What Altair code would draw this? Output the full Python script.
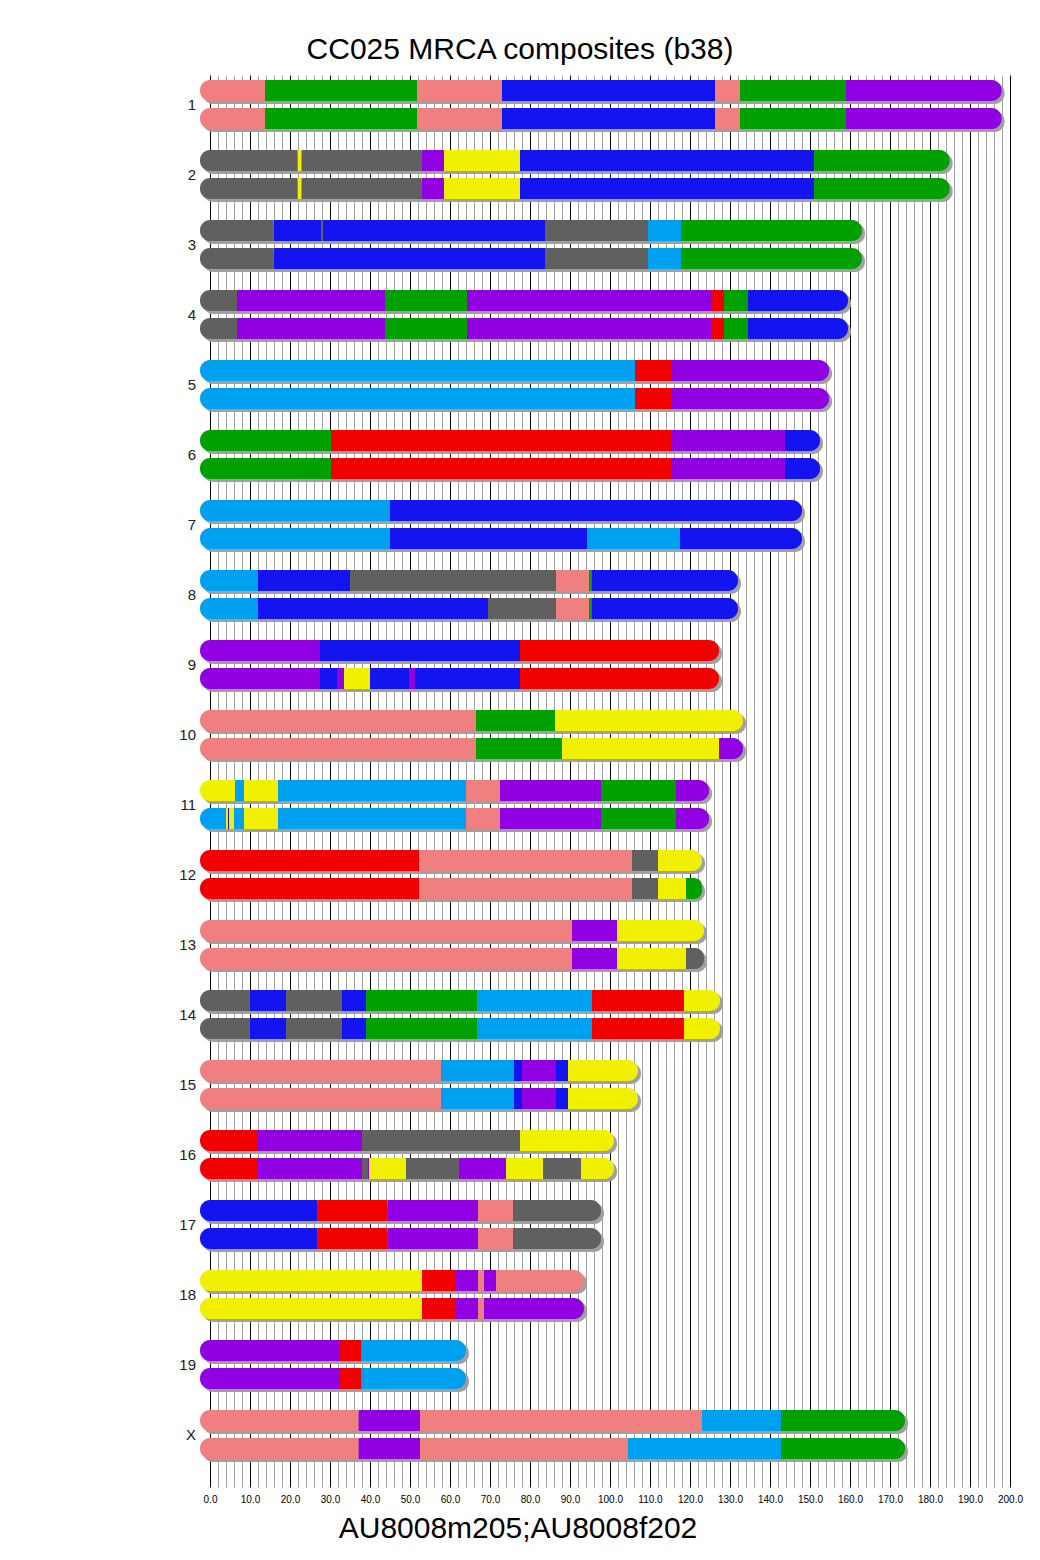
import altair as alt
import pandas as pd

TITLE = "CC025 MRCA composites (b38)"
XLABEL = "AU8008m205;AU8008f202"

CHROM_LABELS = ["1", "2", "3", "4", "5", "6", "7", "8", "9", "10",
                "11", "12", "13", "14", "15", "16", "17", "18", "19", "X"]

COLOR_KEYS = ["P", "G", "B", "V", "K", "Y", "L", "R"]
COLOR_HEX = ["#f08080", "#00a000", "#1414f0", "#9000e0",
             "#606060", "#f0f000", "#00a0f0", "#f00000"]

# each track: list of (segment end in cM, founder colour key); segments start at previous end
chr_1 = ([(13.75, "P"), (51.75, "G"), (73, "P"), (126.25, "B"), (132.5, "P"), (159, "G"), (195.4, "V")],
         [(13.75, "P"), (51.75, "G"), (73, "P"), (126.25, "B"), (132.5, "P"), (159, "G"), (195.4, "V")])
chr_2 = ([(21.9, "K"), (22.9, "Y"), (52.9, "K"), (58.5, "V"), (77.5, "Y"), (151, "B"), (182.4, "G")],
         [(21.9, "K"), (22.9, "Y"), (52.9, "K"), (58.5, "V"), (77.5, "Y"), (151, "B"), (182.4, "G")])
chr_3 = ([(15.9, "K"), (27.75, "B"), (28.25, "K"), (83.75, "B"), (109.5, "K"), (117.75, "L"), (160.5, "G")],
         [(15.9, "K"), (83.75, "B"), (109.5, "K"), (117.75, "L"), (160.5, "G")])
chr_4 = ([(6.75, "K"), (43.75, "V"), (64.25, "G"), (125.25, "V"), (128.5, "R"), (134.5, "G"), (157, "B")],
         [(6.75, "K"), (43.75, "V"), (64.25, "G"), (125.25, "V"), (128.5, "R"), (134.5, "G"), (157, "B")])
chr_5 = ([(106.25, "L"), (115.25, "R"), (152.25, "V")],
         [(106.25, "L"), (115.25, "R"), (152.25, "V")])
chr_6 = ([(30.25, "G"), (115.25, "R"), (143.75, "V"), (150, "B")],
         [(30.25, "G"), (115.25, "R"), (143.75, "V"), (150, "B")])
chr_7 = ([(45, "L"), (145.5, "B")],
         [(45, "L"), (94.25, "B"), (117.5, "L"), (145.5, "B")])
chr_8 = ([(12, "L"), (35, "B"), (86.5, "K"), (94.75, "P"), (95.5, "G"), (129.5, "B")],
         [(12, "L"), (69.5, "B"), (86.5, "K"), (94.75, "P"), (95.5, "G"), (129.5, "B")])
chr_9 = ([(27.5, "V"), (77.5, "B"), (124.75, "R")],
         [(27.5, "V"), (31.75, "B"), (33.5, "V"), (40, "Y"), (49.75, "B"), (51.25, "V"), (77.5, "B"), (124.75, "R")])
chr_10 = ([(66.5, "P"), (86.25, "G"), (130.75, "Y")],
          [(66.5, "P"), (88, "G"), (127.25, "Y"), (130.75, "V")])
chr_11 = ([(6.25, "Y"), (8.5, "L"), (17, "Y"), (64, "L"), (72.5, "P"), (97.75, "V"), (116.5, "G"), (122.25, "V")],
          [(4, "L"), (4.5, "Y"), (4.75, "B"), (6, "Y"), (8.5, "L"), (17, "Y"), (64, "L"), (72.5, "P"),
           (97.75, "V"), (116.5, "G"), (122.25, "V")])
chr_12 = ([(52.25, "R"), (105.5, "P"), (112, "K"), (120.5, "Y")],
          [(52.25, "R"), (105.5, "P"), (112, "K"), (119, "Y"), (120.5, "G")])
chr_13 = ([(90.5, "P"), (101.75, "V"), (121, "Y")],
          [(90.5, "P"), (101.75, "V"), (119, "Y"), (121, "K")])
chr_14 = ([(10, "K"), (19, "B"), (33, "K"), (39, "B"), (66.75, "G"), (95.5, "L"), (118.5, "R"), (125, "Y")],
          [(10, "K"), (19, "B"), (33, "K"), (39, "B"), (66.75, "G"), (95.5, "L"), (118.5, "R"), (125, "Y")])
chr_15 = ([(57.75, "P"), (76, "L"), (78, "B"), (86.5, "V"), (89.5, "B"), (104.5, "Y")],
          [(57.75, "P"), (76, "L"), (78, "B"), (86.5, "V"), (89.5, "B"), (104.5, "Y")])
chr_16 = ([(12, "R"), (38, "V"), (77.5, "K"), (98.5, "Y")],
          [(12, "R"), (38, "V"), (39.5, "K"), (39.75, "V"), (49, "Y"), (62.2, "K"), (74, "V"),
           (83.25, "Y"), (92.75, "K"), (98.5, "Y")])
chr_17 = ([(26.9, "B"), (44.4, "R"), (67, "V"), (75.75, "P"), (95.25, "K")],
          [(26.9, "B"), (44.4, "R"), (67, "V"), (75.75, "P"), (95.25, "K")])
chr_18 = ([(53, "Y"), (61.5, "R"), (67, "V"), (68.5, "P"), (71.5, "V"), (91, "P")],
          [(53, "Y"), (61.5, "R"), (67, "V"), (68.5, "P"), (91, "V")])
chr_19 = ([(32.5, "V"), (37.75, "R"), (61.5, "L")],
          [(32.5, "V"), (37.75, "R"), (61.5, "L")])
chr_X = ([(37.1, "P"), (52.5, "V"), (123, "P"), (142.75, "L"), (171.25, "G")],
         [(37.1, "P"), (52.5, "V"), (104.5, "P"), (142.75, "L"), (171.25, "G")])

TRACKS = [chr_1, chr_2, chr_3, chr_4, chr_5, chr_6, chr_7, chr_8, chr_9, chr_10,
          chr_11, chr_12, chr_13, chr_14, chr_15, chr_16, chr_17, chr_18, chr_19, chr_X]

GRID_VALUES = list(range(0, 201, 2))

# layout (in plot-pixel units of the y scale)
ROW = 70
T1 = 5
T2 = 33
TH = 21
CAP = 2.5
PLOT_H = 1412

seg_rows, shadow_rows, label_rows = [], [], []
for i, (lab, pair) in enumerate(zip(CHROM_LABELS, TRACKS)):
    for k, track in enumerate(pair):
        top = T1 + ROW * i + (T2 - T1) * k
        start = 0.0
        n = len(track)
        for j, (end, c) in enumerate(track):
            pos = "first" if j == 0 else ("last" if j == n - 1 else "mid")
            x0 = start - CAP if j == 0 else start
            x1 = end + CAP if j == n - 1 else end
            seg_rows.append(dict(chrom=lab, x0=x0, x1=x1, y0=top, y1=top + TH, col=c, pos=pos))
            start = end
        shadow_rows.append(dict(x0=-CAP, x1=track[-1][0] + CAP, y0=top, y1=top + TH))
    label_rows.append(dict(lab=lab, ly=T1 + ROW * i + TH + 3.5))

segs = pd.DataFrame(seg_rows)
shadows = pd.DataFrame(shadow_rows)
labels = pd.DataFrame(label_rows)

xs = alt.Scale(domain=[0, 200], nice=False, zero=False)
ys = alt.Scale(domain=[0, PLOT_H], reverse=True, nice=False, zero=False)
cs = alt.Scale(domain=COLOR_KEYS, range=COLOR_HEX)

xaxis = alt.Axis(
    values=GRID_VALUES,
    grid=True,
    gridColor={"condition": {"test": "datum.value % 10 === 0", "value": "#000000"}, "value": "#a0a0a0"},
    gridWidth=1,
    gridOpacity=1,
    ticks=False,
    domain=False,
    labelExpr="datum.value % 10 === 0 ? format(datum.value, '.1f') : ''",
    labelFontSize=10,
    labelFont="Liberation Sans",
    labelColor="#000000",
    labelPadding=7,
    labelOverlap=False,
    labelFlush=False,
    title=None,
)

shadow = alt.Chart(shadows).mark_rect(
    color="#a0a0a0", cornerRadius=10, xOffset=3, x2Offset=3, yOffset=3, y2Offset=3
).encode(
    x=alt.X("x0:Q", scale=xs, axis=xaxis),
    x2="x1:Q",
    y=alt.Y("y0:Q", scale=ys, axis=None),
    y2="y1:Q",
)

def seg_layer(pos, **corner):
    return alt.Chart(segs).transform_filter(alt.datum.pos == pos).mark_rect(**corner).encode(
        x=alt.X("x0:Q", scale=xs, axis=xaxis),
        x2="x1:Q",
        y=alt.Y("y0:Q", scale=ys, axis=None),
        y2="y1:Q",
        color=alt.Color("col:N", scale=cs, legend=None),
    )

mid = seg_layer("mid")
first = seg_layer("first", cornerRadiusTopLeft=10, cornerRadiusBottomLeft=10)
last = seg_layer("last", cornerRadiusTopRight=10, cornerRadiusBottomRight=10)

chrom_text = alt.Chart(labels).mark_text(
    align="right", baseline="middle", fontSize=15, font="Liberation Sans", color="#202020"
).encode(
    x=alt.value(-14),
    y=alt.Y("ly:Q", scale=ys, axis=None),
    text="lab:N",
)

title_text = alt.Chart(pd.DataFrame({"t": [TITLE]})).mark_text(
    align="center", baseline="alphabetic", fontSize=30, font="Liberation Sans", color="#000000"
).encode(x=alt.value(310), y=alt.value(-16), text="t:N")

xlabel_text = alt.Chart(pd.DataFrame({"t": [XLABEL]})).mark_text(
    align="center", baseline="alphabetic", fontSize=30, font="Liberation Sans", color="#000000"
).encode(x=alt.value(308), y=alt.value(1463), text="t:N")

chart = alt.layer(shadow, mid, first, last, chrom_text, title_text, xlabel_text).properties(
    width=800,
    height=PLOT_H,
    autosize=alt.AutoSizeParams(type="none"),
    padding={"left": 210, "top": 75, "right": 30, "bottom": 73},
    background="white",
).configure_view(stroke=None)

chart.save("out.html", embed_options={"renderer": "svg", "actions": False})
